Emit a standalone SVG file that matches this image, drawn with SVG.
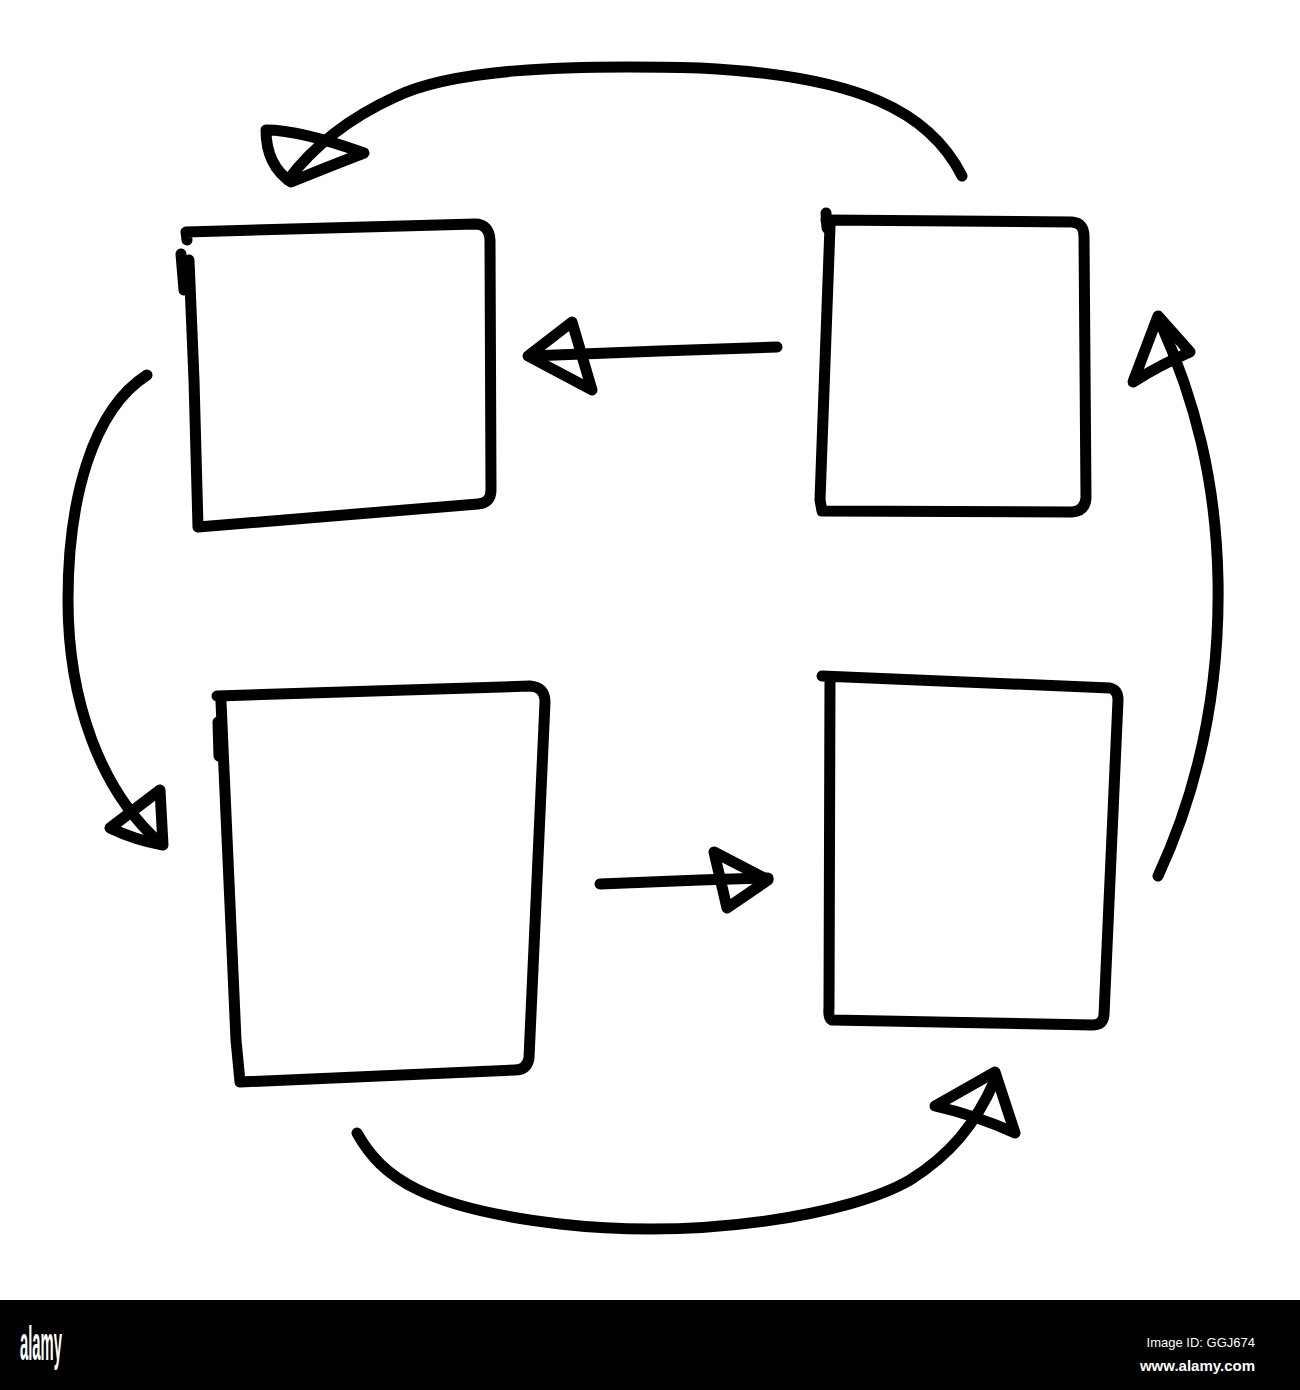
<svg xmlns="http://www.w3.org/2000/svg" width="1300" height="1390" viewBox="0 0 1300 1390">
<style>
.ink{fill:none;stroke:#000;stroke-width:11;stroke-linecap:round;stroke-linejoin:round}
.wm{fill:#fff;font-family:"Liberation Sans Narrow","Liberation Sans",Arial,sans-serif}
</style>
<rect width="1300" height="1390" fill="#fff"/>
<g id="node-top-left">
<path class="ink" d="M187,240 L186,232 L475,224 Q489,224 490,240 L491,490 Q491,503 478,504 L198,527 L194,380 L189,260"/>
<path class="ink" d="M181,254 L184,290"/>
</g>
<g id="node-top-right">
<path class="ink" d="M826,220 L1072,222 Q1084,223 1084,236 L1086,498 Q1085,511 1072,512 L822,511 L820,500 L830,226"/>
<path class="ink" d="M826,213 L827,228"/>
</g>
<g id="node-bottom-left">
<path class="ink" d="M217,696 L530,686 Q545,687 545,702 L529,1058 Q527,1070 515,1070 L240,1082 L236,1040 L221,702"/>
<path class="ink" d="M218,722 L219,756"/>
</g>
<g id="node-bottom-right">
<path class="ink" d="M822,676 L1110,688 Q1118,690 1118,700 L1104,1015 Q1103,1025 1092,1025 L832,1020 Q828,1018 829,1008 L830,678"/>
</g>
<g id="connectors">
<path class="ink" d="M962,176 C930,112 860,76 700,68 C560,64 450,70 395,97 C345,120 312,148 288,180"/>
<path class="ink" d="M266,130 Q300,130 364,153 Q330,166 291,182 Q266,165 266,130 Z"/>
<path class="ink" d="M147,375 C92,410 68,500 68,600 C68,700 100,790 160,843"/>
<path class="ink" d="M160,790 L163,845 Q135,840 110,828 Z"/>
<path class="ink" d="M1158,876 C1198,790 1220,690 1218,580 C1216,480 1195,400 1160,322"/>
<path class="ink" d="M1158,316 L1190,352 Q1160,365 1133,382 Z"/>
<path class="ink" d="M357,1133 C382,1178 425,1208 560,1224 C700,1240 850,1215 910,1180 C950,1155 975,1125 995,1080"/>
<path class="ink" d="M995,1072 L1015,1133 Q975,1115 935,1106 Z"/>
<path class="ink" d="M777,347 L660,351 L530,356"/>
<path class="ink" d="M572,322 L528,356 L592,390 Z"/>
<path class="ink" d="M600,884 L700,880 L768,878"/>
<path class="ink" d="M714,852 L768,880 L727,908 Z"/>
</g>
<g id="watermark">
<rect x="0" y="1300" width="1300" height="90" fill="#000"/>
<text class="wm" x="20" y="1360" font-size="48" font-weight="bold" textLength="42" lengthAdjust="spacingAndGlyphs">alamy</text>
<text class="wm" x="1255" y="1347" font-size="13" text-anchor="end">Image ID: GGJ674</text>
<text class="wm" x="1255" y="1371" font-size="15" font-weight="bold" text-anchor="end">www.alamy.com</text>
</g>
</svg>
